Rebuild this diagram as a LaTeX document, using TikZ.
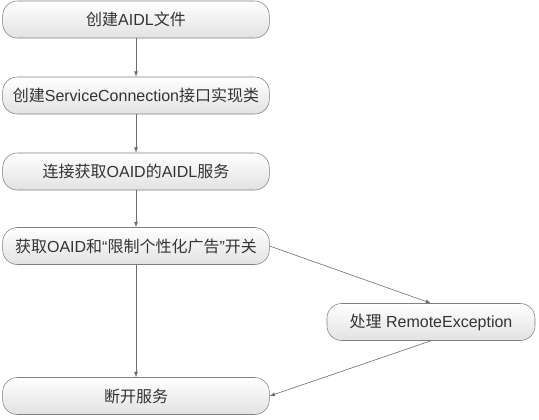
\documentclass[tikz,border=0pt]{standalone}
\usepackage{fontspec}
\setmainfont{Noto Sans CJK SC}
\newfontfamily\latin{Liberation Sans}
\usetikzlibrary{arrows,shapes}
\definecolor{boxline}{RGB}{128, 128, 128}
\definecolor{boxbottom}{RGB}{226, 226, 226}
\definecolor{boxtext}{RGB}{51, 51, 51}
\definecolor{arcgray}{RGB}{110, 110, 110}
\tikzstyle{flowstep}=[draw=boxline,rounded corners=11pt,top color=white,bottom color=boxbottom,text=boxtext,font=\fontsize{12}{14}\selectfont,minimum width=200pt,minimum height=27.75pt,inner sep=2pt]
\tikzstyle{flowarc}=[->,>=latex,draw=arcgray,fill=arcgray]
\begin{document}
\begin{tikzpicture}[x=0.75pt,y=-0.75pt]
\useasboundingbox (0,0) rectangle (539,419);

\node[flowstep] (S1) at (136,19.5) {创建{\latin AIDL}文件};
\node[flowstep] (S2) at (136,95.5) {创建{\latin ServiceConnection}接口实现类};
\node[flowstep] (S3) at (136,171.5) {连接获取{\latin OAID}的{\latin AIDL}服务};
\node[flowstep] (S4) at (136,246) {获取{\latin OAID}和{\latin “}限制个性化广告{\latin ”}开关};
\node[flowstep] (S5) at (136,396) {断开服务};
\node[flowstep,minimum width=156pt] (S6) at (431,322) {处理{\latin\ RemoteException}};

\draw[flowarc] (S1) -- (S2);
\draw[flowarc] (S2) -- (S3);
\draw[flowarc] (S3) -- (S4);
\draw[flowarc] (S4) -- (S5);
\draw[flowarc] (S4.east) -- (S6.north);
\draw[flowarc] (S6.south) -- (S5.east);

\end{tikzpicture}
\end{document}
